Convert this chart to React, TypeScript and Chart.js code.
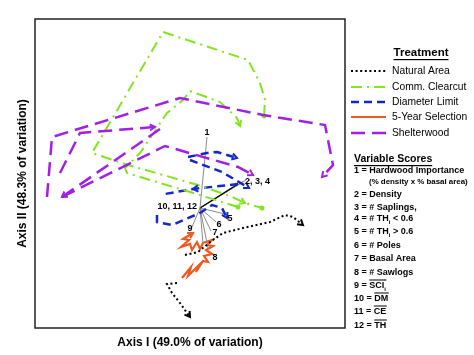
import React, { useEffect, useRef } from 'react';
import { Chart, registerables } from 'chart.js';

Chart.register(...registerables);

type P = [number, number];

// Axis ranges (ordination units)
const xRange: P = [-1.65, 1.45];
const yRange: P = [-1.2, 1.89];

// Treatment trajectories (Axis I, Axis II)
const naturalA: P[] = [[-0.15, -0.47], [-0.02, -0.44], [0.13, -0.32], [0.23, -0.25], [0.43, -0.2], [0.7, -0.14], [0.85, -0.07], [0.93, -0.09], [1.03, -0.17]];
const naturalB: P[] = [[-0.23, -0.75], [-0.33, -0.76], [-0.28, -0.85], [-0.2, -0.95], [-0.1, -1.09]];
const clearcutA: P[] = [[0.64, 0.92], [0.65, 1.08], [0.6, 1.25], [0.48, 1.48], [-0.37, 1.76], [-1.08, 0.55], [-0.72, 0.43], [-0.02, 0.23], [0.3, 0.12], [0.45, 0.05], [0.62, 0.0]];
const clearcutB: P[] = [[0.38, 0.01], [-0.1, 0.16], [-0.73, 0.35], [-0.75, 0.4], [-0.6, 0.55], [-0.33, 0.95], [-0.17, 1.08], [-0.1, 1.17], [0.2, 1.06], [0.37, 0.9], [0.4, 0.82]];
const diameterA: P[] = [[-0.12, 0.51], [0.07, 0.55], [0.17, 0.56], [0.37, 0.5]];
const diameterB: P[] = [[-0.1, 0.48], [0.22, 0.36], [0.49, 0.2]];
const diameterC: P[] = [[0.38, 0.24], [-0.07, 0.19], [-0.35, 0.14]];
const diameterD: P[] = [[-0.43, -0.07], [-0.43, -0.14], [-0.28, -0.17], [0.0, -0.05], [0.12, 0.03], [0.22, 0.0], [0.27, -0.1]];
const selection: P[] = [[-0.18, -0.7], [-0.09, -0.59], [-0.12, -0.68], [-0.01, -0.57], [-0.04, -0.64], [0.03, -0.53], [0.08, -0.54], [0.04, -0.48], [0.12, -0.46], [0.06, -0.42], [0.13, -0.38], [0.07, -0.37], [0.12, -0.32], [0.03, -0.35], [0.0, -0.41], [-0.03, -0.34], [-0.08, -0.42], [-0.1, -0.36], [-0.19, -0.39], [-0.11, -0.32], [-0.17, -0.31], [-0.07, -0.25]];
const shelterA: P[] = [[-1.53, 0.11], [-1.48, 0.71], [-0.2, 1.1], [0.63, 0.93], [1.25, 0.83], [1.33, 0.43], [1.22, 0.31]];
const shelterB: P[] = [[-1.4, 0.35], [-1.2, 0.75], [-0.45, 0.81]];
const shelterC: P[] = [[-0.4, 0.79], [-1.38, 0.11]];
const shelterD: P[] = [[-1.38, 0.11], [-0.35, 0.62], [0.38, 0.41], [0.53, 0.33]];

// Variable score vectors (end points from origin)
const vectorEnds: P[] = [[0.07, 0.71], [0.38, 0.24], [0.41, 0.25], [0.44, 0.27], [0.46, 0.28], [0.25, -0.06], [0.16, -0.14], [0.11, -0.23], [0.08, -0.4], [0.03, -0.36], [-0.08, -0.19]];
const vectorLabels = ['1', '2, 3, 4', '5', '6', '7', '8', '9', '10, 11, 12'];
const vectorLabelX = [0.07, 0.45, 0.3, 0.19, 0.15, 0.15, -0.1, -0.03];
const vectorLabelY = [0.75, 0.26, -0.11, -0.17, -0.25, -0.5, -0.21, 0.01];
const vectorLabelAlign: CanvasTextAlign[] = ['center', 'left', 'center', 'center', 'center', 'center', 'center', 'right'];

// Legend
const treatmentNames = ['Natural Area', 'Comm. Clearcut', 'Diameter Limit', '5-Year Selection', 'Shelterwood'];
const treatmentColors = ['#000000', '#80e61e', '#1428c8', '#f0581e', '#a21fe6'];
const treatmentDash = [[2, 2.6], [11, 5, 2, 5], [8, 5], [], [14, 7]];
const treatmentWidth = [2, 2, 2.5, 2.2, 2.5];

type Part = { t: string; sub?: boolean; over?: boolean };
const variableScores: Part[][] = [
  [{ t: '1 = Hardwood Importance' }],
  [{ t: '2 = Density' }],
  [{ t: '3 = # Saplings,' }],
  [{ t: '4 = # TH' }, { t: 'i', sub: true }, { t: ' < 0.6' }],
  [{ t: '5 = # TH' }, { t: 'i', sub: true }, { t: ' > 0.6' }],
  [{ t: '6 = # Poles' }],
  [{ t: '7 = Basal Area' }],
  [{ t: '8 = # Sawlogs' }],
  [{ t: '9 = ' }, { t: 'SCI', over: true }, { t: 'i', sub: true, over: true }],
  [{ t: '10 = ' }, { t: 'DM', over: true }],
  [{ t: '11 = ' }, { t: 'CE', over: true }],
  [{ t: '12 = ' }, { t: 'TH', over: true }],
];
const variableScoreY = [171, 195, 208, 219, 232, 246, 259, 273, 286, 299, 312, 326];

const FONT = "'Liberation Sans', Arial, Helvetica, sans-serif";

function series(pts: P[], idx: number, arrows: number[], dots: number[] = []) {
  return {
    data: pts.map(([x, y]) => ({ x, y })),
    showLine: true,
    borderColor: treatmentColors[idx],
    backgroundColor: treatmentColors[idx],
    borderWidth: treatmentWidth[idx],
    borderDash: treatmentDash[idx],
    borderCapStyle: 'butt',
    pointRadius: pts.map((_, i) => (dots.includes(i) ? 2.5 : 0)),
    pointBorderWidth: 0,
    tension: 0,
    arrows,
  } as any;
}

const decor = {
  id: 'decor',
  afterDatasetsDraw(chart: any) {
    const ctx = chart.ctx as CanvasRenderingContext2D;
    ctx.save();
    chart.data.datasets.forEach((ds: any, di: number) => {
      if (!ds.arrows) return;
      const meta = chart.getDatasetMeta(di);
      ds.arrows.forEach((k: number) => {
        const p = meta.data[k];
        const q = meta.data[k - 1];
        if (!p || !q) return;
        const a = Math.atan2(p.y - q.y, p.x - q.x);
        const L = 6;
        ctx.strokeStyle = ds.borderColor;
        ctx.lineWidth = 2;
        ctx.setLineDash([]);
        ctx.beginPath();
        ctx.moveTo(p.x - L * Math.cos(a - 0.55), p.y - L * Math.sin(a - 0.55));
        ctx.lineTo(p.x, p.y);
        ctx.lineTo(p.x - L * Math.cos(a + 0.55), p.y - L * Math.sin(a + 0.55));
        ctx.stroke();
      });
    });
    // vector labels
    const xs = chart.scales.x;
    const ys = chart.scales.y;
    ctx.fillStyle = '#000';
    ctx.font = `bold 9px ${FONT}`;
    ctx.textBaseline = 'middle';
    vectorLabels.forEach((lab, i) => {
      ctx.textAlign = vectorLabelAlign[i];
      ctx.fillText(lab, xs.getPixelForValue(vectorLabelX[i]), ys.getPixelForValue(vectorLabelY[i]));
    });
    ctx.restore();
  },
  afterDraw(chart: any) {
    const ctx = chart.ctx as CanvasRenderingContext2D;
    const { left, top, right, bottom } = chart.chartArea;
    ctx.save();
    // frame
    ctx.strokeStyle = '#222';
    ctx.lineWidth = 1.5;
    ctx.setLineDash([]);
    ctx.strokeRect(left, top, right - left, bottom - top);

    // axis titles
    ctx.fillStyle = '#000';
    ctx.font = `bold 12px ${FONT}`;
    ctx.textAlign = 'center';
    ctx.textBaseline = 'middle';
    ctx.fillText('Axis I (49.0% of variation)', (left + right) / 2, bottom + 15);
    ctx.save();
    ctx.translate(left - 12, (top + bottom) / 2);
    ctx.rotate(-Math.PI / 2);
    ctx.fillText('Axis II (48.3% of variation)', 0, 0);
    ctx.restore();

    // Treatment legend
    const underline = (text: string, x: number, y: number, align: CanvasTextAlign, off: number) => {
      ctx.textAlign = align;
      ctx.fillText(text, x, y);
      const w = ctx.measureText(text).width;
      const x0 = align === 'center' ? x - w / 2 : x;
      ctx.fillRect(x0, y + off, w, 1.2);
    };
    ctx.font = `bold 11.5px ${FONT}`;
    underline('Treatment', right + 76, 53, 'center', 6);
    const rowY = [71, 87, 102, 117, 133];
    treatmentNames.forEach((name, i) => {
      ctx.strokeStyle = treatmentColors[i];
      ctx.lineWidth = treatmentWidth[i];
      ctx.setLineDash(treatmentDash[i]);
      ctx.lineCap = 'butt';
      ctx.beginPath();
      ctx.moveTo(right + 6, rowY[i]);
      ctx.lineTo(right + 41, rowY[i]);
      ctx.stroke();
      ctx.setLineDash([]);
      ctx.fillStyle = '#000';
      ctx.font = `10.3px ${FONT}`;
      ctx.textAlign = 'left';
      ctx.fillText(name, right + 47, rowY[i]);
    });

    // Variable scores
    const vx = right + 9;
    ctx.font = `bold 10.5px ${FONT}`;
    underline('Variable Scores', vx, 159, 'left', 6);
    ctx.font = `bold 7.9px ${FONT}`;
    ctx.textAlign = 'left';
    ctx.fillText('(% density x % basal area)', vx + 15, 182);
    variableScores.forEach((parts, i) => {
      let cx = vx;
      const y = variableScoreY[i];
      parts.forEach((p) => {
        const size = p.sub ? 6 : 9;
        ctx.font = `bold ${size}px ${FONT}`;
        ctx.textAlign = 'left';
        ctx.fillText(p.t, cx, y + (p.sub ? 3 : 0));
        const w = ctx.measureText(p.t).width;
        if (p.over) ctx.fillRect(cx, y - 6.5, w + 0.5, 1);
        cx += w;
      });
    });
    ctx.restore();
  },
};

export default function App() {
  const ref = useRef<HTMLCanvasElement>(null);
  useEffect(() => {
    document.body.style.margin = '0';
    const vectorSets = vectorEnds.map(([x, y], i) => ({
      data: [{ x: 0, y: 0 }, { x, y }],
      showLine: true,
      borderColor: i === 1 ? '#000' : '#8a8a8a',
      borderWidth: i === 1 ? 1.4 : 1,
      pointRadius: 0,
      tension: 0,
    }));
    const chart = new Chart(ref.current as HTMLCanvasElement, {
      type: 'scatter',
      data: {
        datasets: [
          series(shelterA, 4, [shelterA.length - 1]),
          series(shelterB, 4, [shelterB.length - 1]),
          series(shelterC, 4, [shelterC.length - 1]),
          series(shelterD, 4, [shelterD.length - 1]),
          series(clearcutA, 1, [9], [0, clearcutA.length - 1]),
          series(clearcutB, 1, [clearcutB.length - 1], [0]),
          series(diameterA, 2, [diameterA.length - 1]),
          series(diameterB, 2, [diameterB.length - 1]),
          series(diameterC, 2, [1]),
          series(diameterD, 2, [diameterD.length - 1]),
          series(naturalA, 0, [naturalA.length - 1]),
          series(naturalB, 0, [naturalB.length - 1]),
          ...vectorSets,
          series(selection, 3, [selection.length - 1]),
        ] as any,
      },
      options: {
        responsive: false,
        animation: false,
        layout: { padding: { left: 35, top: 19, right: 129, bottom: 27 } },
        scales: {
          x: { type: 'linear', min: xRange[0], max: xRange[1], display: false },
          y: { type: 'linear', min: yRange[0], max: yRange[1], display: false },
        },
        plugins: { legend: { display: false }, tooltip: { enabled: false } },
      },
      plugins: [decor],
    });
    return () => chart.destroy();
  }, []);
  return (
    <div style={{ width: 474, height: 355, background: '#fff' }}>
      <canvas ref={ref} width={474} height={355} style={{ display: 'block' }} />
    </div>
  );
}
